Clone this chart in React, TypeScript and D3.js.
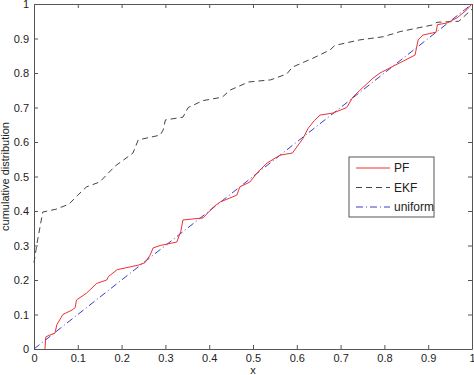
import * as d3 from "d3";
import { useEffect, useRef } from "react";

// PF empirical cdf (red, solid)
const pfX = [0.025, 0.027, 0.035, 0.048, 0.052, 0.066, 0.087, 0.094, 0.097, 0.12, 0.143, 0.166, 0.17, 0.19, 0.238, 0.253, 0.265, 0.272, 0.288, 0.326, 0.335, 0.34, 0.386, 0.41, 0.425, 0.463, 0.47, 0.493, 0.509, 0.532, 0.562, 0.59, 0.614, 0.626, 0.64, 0.653, 0.683, 0.714, 0.728, 0.744, 0.774, 0.79, 0.836, 0.87, 0.877, 0.888, 0.909, 0.918, 0.921, 0.943, 0.966, 0.988, 1.0];
const pfY = [0.0, 0.035, 0.04, 0.046, 0.07, 0.1, 0.113, 0.12, 0.142, 0.162, 0.19, 0.2, 0.21, 0.23, 0.243, 0.25, 0.272, 0.293, 0.3, 0.31, 0.34, 0.374, 0.38, 0.412, 0.426, 0.446, 0.47, 0.484, 0.51, 0.539, 0.562, 0.568, 0.61, 0.64, 0.662, 0.678, 0.684, 0.7, 0.73, 0.75, 0.785, 0.8, 0.83, 0.852, 0.896, 0.91, 0.916, 0.918, 0.94, 0.945, 0.96, 0.983, 1.0];

// EKF empirical cdf (gray, dashed)
const ekfX = [0.0, 0.007, 0.02, 0.05, 0.08, 0.1, 0.12, 0.15, 0.185, 0.226, 0.238, 0.288, 0.295, 0.3, 0.34, 0.352, 0.386, 0.43, 0.447, 0.49, 0.54, 0.577, 0.59, 0.637, 0.676, 0.687, 0.744, 0.797, 0.836, 0.874, 0.909, 0.92, 0.97, 1.0];
const ekfY = [0.25, 0.307, 0.397, 0.405, 0.42, 0.446, 0.47, 0.484, 0.53, 0.568, 0.606, 0.62, 0.635, 0.664, 0.672, 0.7, 0.72, 0.73, 0.75, 0.774, 0.78, 0.797, 0.817, 0.843, 0.867, 0.88, 0.896, 0.905, 0.92, 0.93, 0.939, 0.947, 0.95, 0.985];

// uniform reference cdf (blue, dash-dot)
const uniX = [0, 1];
const uniY = [0, 1];

const ticks = [0, 0.1, 0.2, 0.3, 0.4, 0.5, 0.6, 0.7, 0.8, 0.9, 1];
const seriesNames = ["PF", "EKF", "uniform"];

export default function App() {
  const ref = useRef<SVGSVGElement>(null);

  useEffect(() => {
    document.body.style.margin = "0";
    const svg = d3.select(ref.current);
    svg.selectAll("*").remove();

    const margin = { top: 4, right: 2, bottom: 26, left: 34 };
    const W = 474, H = 375;
    const width = W - margin.left - margin.right;
    const height = H - margin.top - margin.bottom;

    const g = svg.append("g").attr("transform", `translate(${margin.left},${margin.top})`);
    const x = d3.scaleLinear().domain([0, 1]).range([0, width]);
    const y = d3.scaleLinear().domain([0, 1]).range([height, 0]);

    const axisColor = "#555";
    const font = "Liberation Sans, Arial, sans-serif";

    // axes with inward ticks (matlab style)
    const styleAxis = (sel: any) => {
      sel.select(".domain").attr("stroke", axisColor);
      sel.selectAll(".tick line").attr("stroke", axisColor);
      sel.selectAll(".tick text").attr("fill", "#222").style("font-family", font).style("font-size", "11px");
    };
    g.append("g").attr("transform", `translate(0,${height})`)
      .call(d3.axisBottom(x).tickValues(ticks).tickSizeInner(-4).tickSizeOuter(0).tickPadding(5).tickFormat(d3.format("~g")))
      .call(styleAxis);
    g.append("g")
      .call(d3.axisLeft(y).tickValues(ticks).tickSizeInner(-4).tickSizeOuter(0).tickPadding(5).tickFormat(d3.format("~g")))
      .call(styleAxis);
    g.append("g")
      .call(d3.axisTop(x).tickValues(ticks).tickSizeInner(-4).tickSizeOuter(0).tickFormat(() => ""))
      .call(styleAxis);
    g.append("g").attr("transform", `translate(${width},0)`)
      .call(d3.axisRight(y).tickValues(ticks).tickSizeInner(-4).tickSizeOuter(0).tickFormat(() => ""))
      .call(styleAxis);

    const line = d3.line<[number, number]>().x(d => x(d[0])).y(d => y(d[1]));
    const series = [
      { xs: pfX, ys: pfY, color: "#f03030", dash: null },
      { xs: ekfX, ys: ekfY, color: "#444", dash: "6,4" },
      { xs: uniX, ys: uniY, color: "#3b3bd0", dash: "7,3,1,3" },
    ];
    series.slice().reverse().forEach(s => {
      g.append("path")
        .datum(s.xs.map((v, i) => [v, s.ys[i]] as [number, number]))
        .attr("fill", "none")
        .attr("stroke", s.color)
        .attr("stroke-width", 1)
        .attr("stroke-dasharray", s.dash)
        .attr("d", line);
    });

    // legend
    const lg = svg.append("g").attr("transform", "translate(349,157)");
    lg.append("rect").attr("width", 85).attr("height", 60).attr("fill", "white").attr("stroke", "#555");
    series.forEach((s, i) => {
      const yy = 11 + i * 19.5;
      lg.append("line").attr("x1", 7).attr("x2", 41).attr("y1", yy).attr("y2", yy)
        .attr("stroke", s.color).attr("stroke-dasharray", s.dash);
      lg.append("text").attr("x", 45).attr("y", yy).attr("dy", "0.35em")
        .style("font-family", font).style("font-size", "12px").attr("fill", "#222")
        .text(seriesNames[i]);
    });

    // axis labels
    svg.append("text").attr("x", margin.left + width / 2).attr("y", 374)
      .attr("text-anchor", "middle").style("font-family", font).style("font-size", "11px").attr("fill", "#222")
      .text("x");
    svg.append("text").attr("transform", `translate(9,${margin.top + height / 2}) rotate(-90)`)
      .attr("text-anchor", "middle").style("font-family", font).style("font-size", "11px").attr("fill", "#222")
      .text("cumulative distribution");
  }, []);

  return <svg ref={ref} width={474} height={375} style={{ display: "block" }} />;
}
